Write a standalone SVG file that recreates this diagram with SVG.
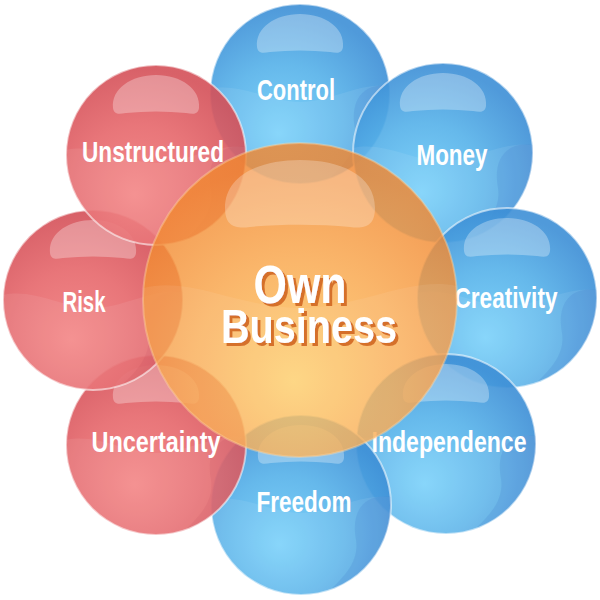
<svg xmlns="http://www.w3.org/2000/svg" width="600" height="600" viewBox="0 0 600 600">
<defs>
<radialGradient id="gBlue" cx="0.42" cy="0.64" r="0.62" fx="0.38" fy="0.72">
<stop offset="0" stop-color="#70cefa"/>
<stop offset="0.55" stop-color="#55b1e9"/>
<stop offset="1" stop-color="#3d8fd6"/>
</radialGradient>
<radialGradient id="gRed" cx="0.42" cy="0.64" r="0.62" fx="0.38" fy="0.72">
<stop offset="0" stop-color="#f27c7c"/>
<stop offset="0.55" stop-color="#e6676b"/>
<stop offset="1" stop-color="#d45058"/>
</radialGradient>
<radialGradient id="gOrange" cx="0.5" cy="0.68" r="0.62" fx="0.48" fy="0.76">
<stop offset="0" stop-color="#fdca60"/>
<stop offset="0.55" stop-color="#f9a64a"/>
<stop offset="1" stop-color="#f18730"/>
</radialGradient>
<filter id="sh" x="-10%" y="-10%" width="120%" height="130%">
<feOffset in="SourceAlpha" dx="3" dy="3" result="o"/>
<feFlood flood-color="#d5702c"/>
<feComposite in2="o" operator="in" result="s"/>
<feMerge><feMergeNode in="s"/><feMergeNode in="SourceGraphic"/></feMerge>
</filter>
<path id="dome" d="M -43,-47 C -45,-66 -25,-80 0,-80 C 25,-80 45,-66 43,-47 C 42,-40 37,-41 30,-42 C 10,-44 -10,-44 -30,-42 C -37,-41 -42,-40 -43,-47 Z"/>
<path id="band" d="M -89.8,-5 C -60,-12 -30,8 0,8 C 30,8 60,-12 89.6,-8 A 90 90 0 1 1 -89.8,-5 Z"/>
<path id="shade" d="M 89.6,-8 C 60,-12 50,10 55,35 C 58,55 45,70 30,84 A 90 90 0 0 0 89.6,-8 Z"/>
</defs>
<style>
.bub{stroke:#ffffff;stroke-opacity:.55;stroke-width:2}
.blue{fill:url(#gBlue);fill-opacity:.9}
.red{fill:url(#gRed);fill-opacity:.9}
.hl{fill:#ffffff;fill-opacity:.3}
.band{fill:#ffffff;fill-opacity:.08}
.shade{fill:#2a5cc0;fill-opacity:.12}
.rshade{fill:#a02040;fill-opacity:.08}
.lbl{font-family:"Liberation Sans",Arial,sans-serif;font-weight:bold;font-size:30px;fill:#ffffff;text-anchor:middle}
.big{font-family:"Liberation Sans",Arial,sans-serif;font-weight:bold;text-anchor:middle;fill:#ffffff}
</style>
<g id="control" transform="translate(300,94)">
<circle class="bub blue" r="90"/>
<use href="#band" class="band"/><use href="#shade" class="shade"/><use href="#dome" class="hl"/>
<text class="lbl" x="-4" y="6" textLength="78" lengthAdjust="spacingAndGlyphs">Control</text>
</g>
<g id="money" transform="translate(443,153)">
<circle class="bub blue" r="90"/>
<use href="#band" class="band"/><use href="#shade" class="shade"/><use href="#dome" class="hl"/>
<text class="lbl" x="9" y="12" textLength="71" lengthAdjust="spacingAndGlyphs">Money</text>
</g>
<g id="creativity" transform="translate(507,298)">
<circle class="bub blue" r="90"/>
<use href="#band" class="band"/><use href="#shade" class="shade"/><use href="#dome" class="hl"/>
<text class="lbl" x="-1" y="10" textLength="103" lengthAdjust="spacingAndGlyphs">Creativity</text>
</g>
<g id="independence" transform="translate(446,444)">
<circle class="bub blue" r="90"/>
<use href="#band" class="band"/><use href="#shade" class="shade"/><use href="#dome" class="hl"/>
<text class="lbl" x="3" y="8" textLength="155" lengthAdjust="spacingAndGlyphs">Independence</text>
</g>
<g id="freedom" transform="translate(301,505)">
<circle class="bub blue" r="90"/>
<use href="#band" class="band"/><use href="#shade" class="shade"/><use href="#dome" class="hl"/>
<text class="lbl" x="3" y="7" textLength="95" lengthAdjust="spacingAndGlyphs">Freedom</text>
</g>
<g id="uncertainty" transform="translate(156,445)">
<circle class="bub red" r="90"/>
<use href="#band" class="band"/><use href="#shade" class="rshade"/><use href="#dome" class="hl"/>
<text class="lbl" x="0" y="7" textLength="129" lengthAdjust="spacingAndGlyphs">Uncertainty</text>
</g>
<g id="risk" transform="translate(93,300)">
<circle class="bub red" r="90"/>
<use href="#band" class="band"/><use href="#shade" class="rshade"/><use href="#dome" class="hl"/>
<text class="lbl" x="-9" y="12" textLength="43" lengthAdjust="spacingAndGlyphs">Risk</text>
</g>
<g id="unstructured" transform="translate(156,155)">
<circle class="bub red" r="90"/>
<use href="#band" class="band"/><use href="#shade" class="rshade"/><use href="#dome" class="hl"/>
<text class="lbl" x="-3" y="7" textLength="142" lengthAdjust="spacingAndGlyphs">Unstructured</text>
</g>
<g id="own-business" transform="translate(300,300)">
<circle r="157" fill="url(#gOrange)" fill-opacity="0.82" stroke="#ffd9a8" stroke-opacity="0.4" stroke-width="2"/>
<path d="M -156.5,-12 C -110,-24 -60,8 0,8 C 60,8 110,-24 156.5,-14 A 157 157 0 1 1 -156.5,-12 Z" fill="#ffffff" fill-opacity="0.07"/>
<path d="M -75,-92 C -75,-125 -40,-140 0,-140 C 40,-140 75,-125 75,-92 C 75,-74 65,-71 50,-73 C 20,-76 -20,-76 -50,-73 C -65,-71 -75,-74 -75,-92 Z" fill="#ffffff" fill-opacity="0.25"/>
<g class="big" filter="url(#sh)">
<text x="0" y="3" font-size="54" textLength="93" lengthAdjust="spacingAndGlyphs">Own</text>
<text x="9" y="43" font-size="49" textLength="176" lengthAdjust="spacingAndGlyphs">Business</text>
</g>
</g>
</svg>
